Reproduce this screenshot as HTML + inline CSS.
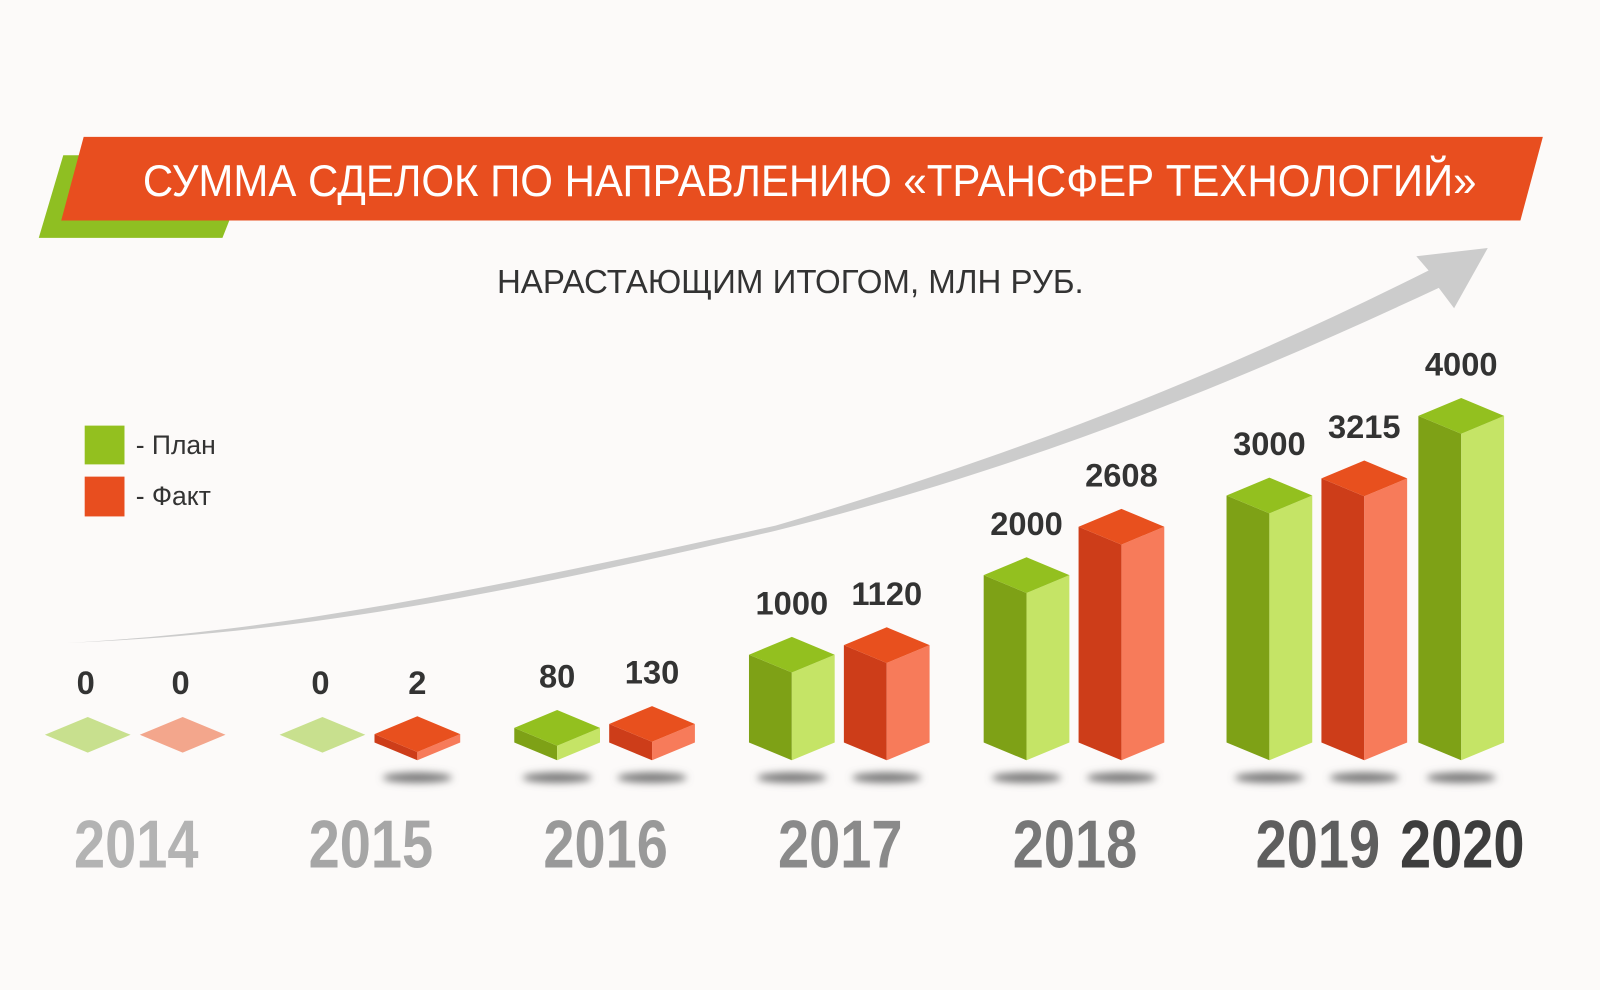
<!DOCTYPE html>
<html><head><meta charset="utf-8"><style>
html,body{margin:0;padding:0;background:#fcfaf9;}
svg{display:block;}
</style></head><body>
<svg id="chart" width="1600" height="990" viewBox="0 0 1568 970" xmlns="http://www.w3.org/2000/svg">
<defs><filter id="blur" x="-50%" y="-200%" width="200%" height="500%"><feGaussianBlur stdDeviation="4"/></filter></defs>
<rect width="1568" height="970" fill="#fcfaf9"/>
<polygon points="62,152 250,152 218,233 38,233" fill="#8fbf22"/>
<polygon points="82,134 1512,134 1490,216 60,216" fill="#e84e1f"/>
<text x="140" y="192" font-family="Liberation Sans, sans-serif" font-size="44" fill="#fff" textLength="1307" lengthAdjust="spacingAndGlyphs">СУММА СДЕЛОК ПО НАПРАВЛЕНИЮ «ТРАНСФЕР ТЕХНОЛОГИЙ»</text>
<text x="487" y="287" font-family="Liberation Sans, sans-serif" font-size="33" fill="#333" textLength="575" lengthAdjust="spacingAndGlyphs">НАРАСТАЮЩИМ ИТОГОМ, МЛН РУБ.</text>
<path d="M65,630 C250,622 420,600 760,520 C1000,460 1200,380 1410,282 L1425,302 L1458,243 L1388,251 L1400,265 C1200,365 1000,445 760,515 C420,590 250,620 65,630 Z" fill="#cccccc"/>
<rect x="83" y="417" width="39" height="38" fill="#93c01f"/>
<text x="133" y="445" font-family="Liberation Sans, sans-serif" font-size="26" fill="#333">- План</text>
<rect x="83" y="467" width="39" height="39" fill="#e84e1f"/>
<text x="133" y="495" font-family="Liberation Sans, sans-serif" font-size="26" fill="#333">- Факт</text>
<g id="bars"></g>
</svg>
<script>
const years = ['2014','2015','2016','2017','2018','2019','2020'];
const planValues = [0, 0, 80, 1000, 2000, 3000, 4000];
const factValues = [0, 2, 130, 1120, 2608, 3215, null];
const planLabels = ['0','0','80','1000','2000','3000','4000'];
const factLabels = ['0','2','130','1120','2608','3215',''];

const NS='http://www.w3.org/2000/svg';
const g=document.getElementById('bars');
const xStart=86, groupStep=230, pairGap=93, baseY=745, hw=42, hh=17.5;
function xGroup(i){return xStart+i*groupStep+(i>=5?(i-4)*8:0)-(i==6?50:0);}
function yScale(v){return 8+v*0.078;}
function el(tag,attrs){const e=document.createElementNS(NS,tag);for(const k in attrs)e.setAttribute(k,attrs[k]);g.appendChild(e);return e;}
const cols={plan:['#93c01f','#7ea116','#c5e466','#c8e08e'],fact:['#e8501e','#cd3d19','#f77b5a','#f3a68c']};
const yearColors=['#b3b3b3','#a6a6a6','#999','#8a8a8a','#777','#5e5e5e','#3d3d3d'];
function bar(cx,v,label,kind,name){
  const c=cols[kind];
  if(v===0){
    const cy=720;
    const d=el('polygon',{points:`${cx-hw},${cy} ${cx},${cy-hh} ${cx+hw},${cy} ${cx},${cy+hh}`,fill:c[3]});
    
    
    const t=el('text',{x:cx-2,y:680,'text-anchor':'middle','font-family':'Liberation Sans, sans-serif','font-weight':'bold','font-size':32,fill:'#333'});
    t.textContent=label;
    
    
    return;
  }
  const h=yScale(v), cTop=baseY-h;
  const sh=el('ellipse',{cx:cx,cy:762,rx:34,ry:5,fill:'#777',filter:'url(#blur)'});
  
  
  const l=el('polygon',{points:`${cx-hw},${cTop-hh} ${cx},${cTop} ${cx},${baseY} ${cx-hw},${baseY-hh}`,fill:c[1]});
  
  
  const r=el('polygon',{points:`${cx},${cTop} ${cx+hw},${cTop-hh} ${cx+hw},${baseY-hh} ${cx},${baseY}`,fill:c[2]});
  
  
  const tp=el('polygon',{points:`${cx-hw},${cTop-hh} ${cx},${cTop-2*hh} ${cx+hw},${cTop-hh} ${cx},${cTop}`,fill:c[0]});
  
  
  const t=el('text',{x:cx,y:cTop-2*hh-22,'text-anchor':'middle','font-family':'Liberation Sans, sans-serif','font-weight':'bold','font-size':32,fill:'#333'});
  t.textContent=label;
  
  
}
years.forEach((y,i)=>{
  const gx=xGroup(i);
  bar(gx,planValues[i],planLabels[i],'plan','bar-plan-'+y);
  if(factValues[i]!==null) bar(gx+pairGap,factValues[i],factLabels[i],'fact','bar-fact-'+y);
  const cxY = factValues[i]===null ? gx : gx+pairGap/2;
  const t=el('text',{x:cxY-60,y:850,'font-family':'Liberation Sans Narrow, Liberation Sans, sans-serif','font-weight':'bold','font-size':66,fill:yearColors[i],textLength:122,lengthAdjust:'spacingAndGlyphs'});
  t.textContent=y;
  
  
});
</script>
</body></html>
